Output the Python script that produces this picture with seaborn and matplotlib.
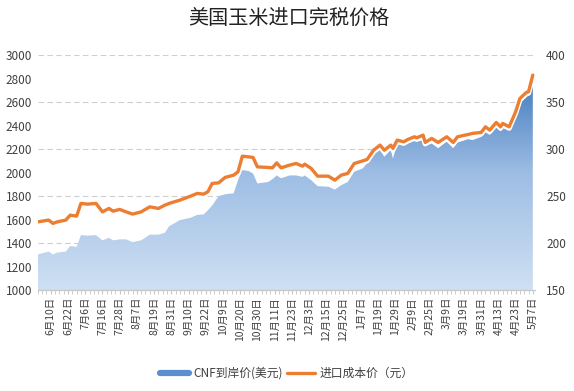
import numpy as np
import matplotlib
matplotlib.use('Agg')
import matplotlib.pyplot as plt
import matplotlib.patheffects as pe
from matplotlib.colors import LinearSegmentedColormap
from matplotlib.lines import Line2D
import seaborn as sns

sns.set_style('white')
plt.rcParams['font.family'] = ['Noto Sans CJK SC', 'DejaVu Sans']

# 交易日序号 (从左到右)
day_idx = [0, 5, 7, 9, 13, 15, 18, 20, 23, 27, 30, 33, 35, 38, 41, 44, 48, 52, 56, 59,
           61, 66, 71, 74, 77, 79, 81, 84, 87, 91, 93, 95, 98, 100, 102, 107, 109, 111, 113, 117,
           120, 123, 124, 127, 130, 135, 138, 141, 144, 147, 151, 153, 156, 159, 161, 164, 165, 167, 170, 172,
           175, 176, 179, 180, 183, 186, 190, 193, 195, 200, 202, 206, 208, 210, 213, 215, 216, 219, 222, 224,
           227, 228, 230]

# 进口成本价 (元) - 左轴
cost_cny = [1581, 1596, 1568, 1581, 1596, 1638, 1630, 1738, 1732, 1738, 1666, 1695, 1672, 1687, 1666, 1647, 1666, 1709, 1695, 1723,
            1738, 1766, 1800, 1823, 1817, 1837, 1908, 1913, 1959, 1979, 2007, 2140, 2134, 2129, 2049, 2044, 2041, 2083, 2041, 2064,
            2078, 2055, 2072, 2036, 1970, 1970, 1936, 1979, 1993, 2078, 2100, 2112, 2191, 2234, 2191, 2234, 2206, 2277, 2262, 2283,
            2305, 2296, 2319, 2257, 2291, 2257, 2305, 2257, 2305, 2325, 2334, 2342, 2390, 2362, 2427, 2390, 2419, 2390, 2517, 2631,
            2683, 2688, 2830]

# CNF到岸价 (美元) - 右轴
cnf_usd = [188, 191, 188, 190, 191, 197, 196, 208.5, 208, 208.5, 203, 205.6, 203, 204, 204, 201, 203, 209, 209, 211,
           218, 224.5, 227, 230, 230.5, 235, 240, 250, 252, 253, 267, 277.7, 276.6, 274, 263.5, 265, 268, 272, 269, 272,
           272, 270.5, 272, 267, 260.6, 260, 257, 261.7, 265, 276, 279.5, 285, 295.4, 299, 292, 299, 290, 306, 304, 306.7,
           309, 308, 309.6, 303.5, 306, 301, 308, 301, 307, 310.6, 309.6, 313, 318, 315, 323.7, 319, 322.7, 320, 336, 350,
           359, 361.7, 379]

date_labels = ['6月10日', '6月22日', '7月6日', '7月16日', '7月28日', '8月7日', '8月19日', '8月31日',
               '9月10日', '9月22日', '10月9日', '10月20日', '10月30日', '11月11日', '11月23日', '12月3日',
               '12月15日', '12月25日', '1月7日', '1月19日', '1月29日', '2月9日', '2月25日', '3月9日',
               '3月19日', '3月31日', '4月13日', '4月23日', '5月7日']

ORANGE = '#ED7D31'
TXT = '#404040'

fig = plt.figure(figsize=(5.74, 3.91), dpi=100)
ax2 = fig.add_axes([0.066, 0.258, 0.866, 0.601])  # 右轴 (面积图)
ax1 = ax2.twinx()  # 左轴 (橙线), 放在上层
ax1.yaxis.tick_left()
ax1.yaxis.set_label_position('left')
ax2.yaxis.tick_right()
ax1.set_zorder(ax2.get_zorder() + 1)
ax1.patch.set_visible(False)

last = day_idx[-1]

# 网格 (放在底层轴上, 让面积图盖住)
ax2.set_yticks(np.arange(150, 401, 50))
ax2.set_axisbelow(True)
ax2.grid(axis='y', color='#cfcfcf', linestyle=(0, (5, 3)), linewidth=0.8)
ax2.grid(axis='x', visible=False)

# 渐变面积
cmap = LinearSegmentedColormap.from_list('blu', ['#cfe0f3', '#9dbde4', '#2f6cb4'])
poly = ax2.fill_between(day_idx, cnf_usd, 150, color='none', zorder=2)
grad = np.linspace(0, 1, 256).reshape(-1, 1)
img = ax2.imshow(grad, cmap=cmap, origin='lower', aspect='auto',
                 extent=[0, last + 1, 150, 400], zorder=2)
img.set_clip_path(poly.get_paths()[0], transform=ax2.transData)
ax2.set_xlim(0, last + 1)
ax2.set_ylim(150, 400)
ax1.set_ylim(1000, 3000)

# 橙色线
sns.lineplot(x=day_idx, y=cost_cny, ax=ax1, color=ORANGE, linewidth=2.4,
             path_effects=[pe.Stroke(linewidth=3.8, foreground='white', offset=(0, -1.0)),
                           pe.Normal()])
ax1.set_yticks(np.arange(1000, 3001, 200))
ax1.set_ylim(1000, 3000)

# x轴刻度
tick_pos = list(range(last - 8 * (len(date_labels) - 1), last + 1, 8))
ax2.set_xticks(tick_pos)
ax2.set_xticklabels(date_labels, rotation=90, fontsize=7.5, color=TXT)
ax2.set_xticks(range(0, last + 1, 2), minor=True)
ax2.tick_params(axis='x', which='both', length=3, color='#c8c8c8', direction='out', pad=2, bottom=True)
ax1.tick_params(axis='x', bottom=False, labelbottom=False)

ax1.tick_params(axis='y', length=0, labelsize=8.5, labelcolor=TXT, pad=4)
ax2.tick_params(axis='y', length=0, labelsize=8.5, labelcolor=TXT, pad=8)
ax1.set_ylabel('')
ax1.set_xlabel('')

for a in (ax1, ax2):
    for s in ['top', 'left', 'right']:
        a.spines[s].set_visible(False)
    a.spines['bottom'].set_color('#c8c8c8')
    a.spines['bottom'].set_linewidth(0.8)

fig.text(0.503, 0.954, '美国玉米进口完税价格', ha='center', va='center', fontsize=14.5, color='#222222')

handles = [Line2D([0], [0], color='#5b8fcf', linewidth=4.5),
           Line2D([0], [0], color=ORANGE, linewidth=2.4)]
fig.legend(handles, ['CNF到岸价(美元)', '进口成本价（元）'], loc='center',
           bbox_to_anchor=(0.5, 0.045), ncol=2, frameon=False, fontsize=8.5,
           handlelength=2.4, columnspacing=0.3, handletextpad=0.4, labelcolor=TXT)

fig.savefig('out.png', dpi=100)
